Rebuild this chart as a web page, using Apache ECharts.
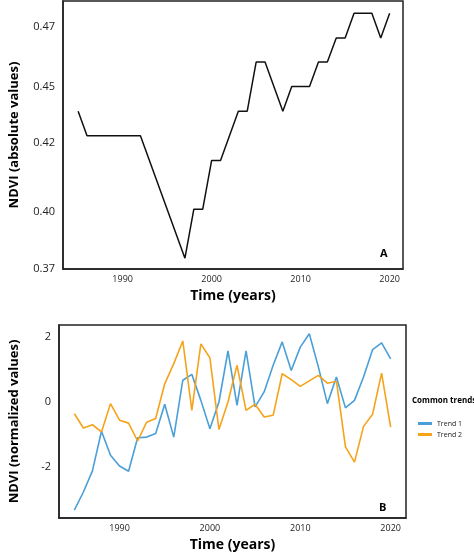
<!DOCTYPE html>
<html>
<head>
<meta charset="utf-8">
<script src="https://cdn.jsdelivr.net/npm/echarts@6/dist/echarts.min.js"></script>
<style>html,body{margin:0;padding:0;background:#fff;}#main{width:474px;height:555px;}</style>
</head>
<body>
<div id="main"></div>
<script>
// panel A: absolute NDVI (years with a visible vertex only)
const yearsA = [1985,1986,1992,1997,1998,1999,2000,2001,2003,2004,2005,2006,2008,2009,2010,2011,2012,2013,2014,2015,2016,2017,2018,2019,2020];
const ndviA = [0.4354,0.4252,0.4252,0.3745,0.3948,0.3948,0.4150,0.4150,0.4354,0.4354,0.4558,0.4558,0.4354,0.4457,0.4457,0.4457,0.4558,0.4558,0.4658,0.4658,0.4760,0.4760,0.4760,0.4658,0.4760];
// tick positions as drawn in the source figure, with their printed labels
const tickPosA = [0.37,0.3935,0.4221,0.4457,0.4702];
const tickLabelsA = ['0.37','0.40','0.42','0.45','0.47'];
// panel B: common trends
const yearsB = [1985,1986,1987,1988,1989,1990,1991,1992,1993,1994,1995,1996,1997,1998,1999,2000,2001,2002,2003,2004,2005,2006,2007,2008,2009,2010,2011,2012,2013,2014,2015,2016,2017,2018,2019,2020];
const trend1 = [-3.33,-2.77,-2.12,-0.90,-1.64,-1.97,-2.13,-1.10,-1.08,-0.97,-0.07,-1.08,0.67,0.85,0.05,-0.82,0.0,1.57,-0.1,1.57,-0.15,0.31,1.13,1.85,0.97,1.69,2.10,1.08,-0.05,0.77,-0.18,0.05,0.77,1.61,1.82,1.33];
const trend2 = [-0.36,-0.80,-0.70,-0.92,-0.05,-0.56,-0.65,-1.20,-0.62,-0.51,0.56,1.18,1.88,-0.26,1.79,1.36,-0.85,0,1.13,-0.26,-0.07,-0.46,-0.41,0.87,0.69,0.48,0.65,0.82,0.58,0.64,-1.38,-1.85,-0.75,-0.38,0.89,-0.77];
const yearTicks = [1990,2000,2010,2020];

const font = '"Open Sans", sans-serif';
const pairs = (xs, ys) => xs.map((x, i) => [x, ys[i]]);

function xAxis(idx, min, max) {
  return {
    gridIndex: idx, type: 'value', min: min, max: max,
    name: 'Time (years)', nameLocation: 'middle', nameGap: 20,
    nameTextStyle: {fontFamily: font, fontWeight: 'bold', fontSize: 14, color: '#000'},
    axisLine: {show: true, onZero: false, lineStyle: {color: '#222', width: 1.5}},
    axisTick: {show: false},
    splitLine: {show: false},
    axisLabel: {customValues: yearTicks, formatter: v => String(v), fontFamily: font, fontSize: 9, color: '#222', margin: 6}
  };
}

const chart = echarts.init(document.getElementById('main'));
chart.setOption({
  animation: false,
  grid: [
    {left: 54, right: 71, top: 1, height: 268, show: true, borderColor: '#222', borderWidth: 1.5},
    {left: 52, right: 68, top: 325, height: 193, show: true, borderColor: '#222', borderWidth: 1.5}
  ],
  xAxis: [xAxis(0, 1983.3, 2021.5), xAxis(1, 1983.3, 2021.7)],
  yAxis: [
    {gridIndex: 0, type: 'value', min: 0.37, max: 0.4811,
     name: 'NDVI (absolute values)', nameLocation: 'middle', nameGap: 42,
     nameTextStyle: {fontFamily: font, fontWeight: 'bold', fontSize: 13, color: '#000'},
     axisLine: {show: true, lineStyle: {color: '#222', width: 1.5}}, axisTick: {show: false}, splitLine: {show: false},
     axisLabel: {customValues: tickPosA,
                 formatter: v => { const i = tickPosA.findIndex(t => Math.abs(t - v) < 1e-6); return i >= 0 ? tickLabelsA[i] : ''; },
                 fontFamily: font, fontSize: 11, color: '#222'}},
    {gridIndex: 1, type: 'value', min: -3.57, max: 2.37,
     name: 'NDVI (normalized values)', nameLocation: 'middle', nameGap: 38,
     nameTextStyle: {fontFamily: font, fontWeight: 'bold', fontSize: 13, color: '#000'},
     axisLine: {show: true, lineStyle: {color: '#222', width: 1.5}}, axisTick: {show: false}, splitLine: {show: false},
     axisLabel: {customValues: [-2, 0, 2], fontFamily: font, fontSize: 11, color: '#222'}}
  ],
  legend: {
    data: ['Trend 1', 'Trend 2'], orient: 'vertical', left: 413, top: 415, itemGap: 4,
    itemWidth: 14, itemHeight: 3, icon: 'rect',
    textStyle: {fontFamily: font, fontSize: 7, color: '#222'}
  },
  graphic: [
    {type: 'text', left: 412, top: 397, style: {text: 'Common trends', font: 'bold 8px ' + font, fill: '#000'}},
    {type: 'text', left: 380, top: 248, style: {text: 'A', font: 'bold 11px ' + font, fill: '#000'}},
    {type: 'text', left: 379, top: 502, style: {text: 'B', font: 'bold 11px ' + font, fill: '#000'}}
  ],
  series: [
    {type: 'line', xAxisIndex: 0, yAxisIndex: 0, data: pairs(yearsA, ndviA), symbol: 'none',
     lineStyle: {color: '#111', width: 1.5}},
    {name: 'Trend 1', type: 'line', xAxisIndex: 1, yAxisIndex: 1, data: pairs(yearsB, trend1), symbol: 'none',
     itemStyle: {color: '#4a9fd8'}, lineStyle: {color: '#4a9fd8', width: 1.6}},
    {name: 'Trend 2', type: 'line', xAxisIndex: 1, yAxisIndex: 1, data: pairs(yearsB, trend2), symbol: 'none',
     itemStyle: {color: '#f5a31a'}, lineStyle: {color: '#f5a31a', width: 1.6}}
  ]
});
</script>
</body>
</html>
